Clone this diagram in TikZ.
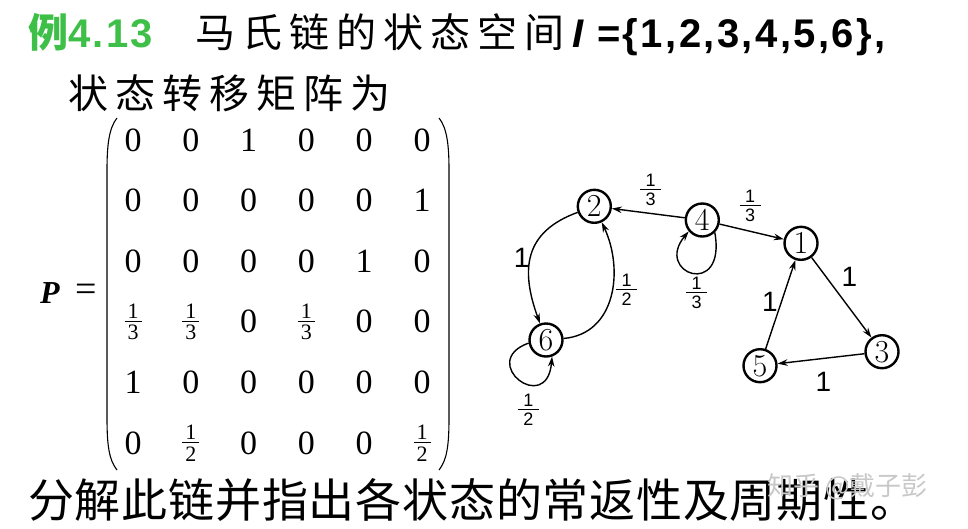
\documentclass[tikz,border=0pt]{standalone}
\usepackage{fontspec}
\usetikzlibrary{arrows.meta,matrix}
\newfontfamily\cjk[LetterSpace=17.5]{Noto Sans CJK SC}
\newfontfamily\cjkbot[LetterSpace=1.7]{Noto Sans CJK SC}
\newfontfamily\cjkplain{Noto Sans CJK SC}
\newfontfamily\timesfont{Liberation Serif}
\newfontfamily\arialfont{Liberation Sans}
\newfontfamily\arialsp[LetterSpace=6]{Liberation Sans}
\definecolor{tgreen}{RGB}{62,192,72}
\definecolor{wmark}{RGB}{200,200,200}
% #1 size, #2 side kern, #3 gap, #4 numerator, #5 denominator
\newcommand\fracstack[5]{{\fontsize{#1}{#1}\selectfont\vbox{\offinterlineskip\halign{\hfil\kern#2##\kern#2\hfil\cr #4\cr\noalign{\kern#3\hrule height 1pt\kern#3}#5\cr}}}}
\newcommand\mfrac[2]{{\timesfont\fracstack{22}{3pt}{3pt}{#1}{#2}}}
\newcommand\gfrac[2]{{\arialfont\fracstack{18}{5.5pt}{3pt}{#1}{#2}}}
\tikzset{
  txt/.style={anchor=base west,inner sep=0pt},
  state/.style={circle,draw,line width=2.4pt,minimum size=33pt,inner sep=0pt,font=\fontsize{32}{32}\selectfont},
  edge/.style={line width=1.4pt,-{Stealth[length=10pt,width=6.5pt]}},
  lab/.style={inner sep=0pt,font=\arialfont\fontsize{28}{28}\selectfont},
  flab/.style={inner sep=0pt},
}
\begin{document}
\begin{tikzpicture}[x=1pt,y=1pt]
\useasboundingbox (0,0) rectangle (968,-528);
\fill[white] (0,0) rectangle (968,-528);

% title
\node[txt,text=tgreen] (ex) at (28,-47) {\cjkplain\bfseries\fontsize{40}{40}\selectfont 例\arialsp\bfseries 4.13};
\node[txt] (t1) at (195,-47) {\cjk\fontsize{40}{40}\selectfont 马氏链的状态空间};
\node[txt] (tI) at (572,-47) {\arialsp\bfseries\itshape\fontsize{40}{40}\selectfont I};
\node[txt] (tset) at (597,-47) {\arialsp\bfseries\fontsize{40}{40}\selectfont =\{1,2,3,4,5,6\},};
\node[txt] (t2) at (68,-108) {\cjk\fontsize{40}{40}\selectfont 状态转移矩阵为};

% matrix
\node (P) at (50,-293) {\timesfont\bfseries\itshape\fontsize{32}{32}\selectfont P};
\node (eq) at (86,-293) {\timesfont\fontsize{38}{38}\selectfont =};
\matrix (M) [matrix of nodes, column sep=0pt, row sep=0pt,
  nodes={inner sep=0pt, minimum width=57.8pt, minimum height=60.6pt, anchor=center,
         font=\timesfont\fontsize{34}{34}\selectfont}] at (277.5,-291.5) {
0 & 0 & 1 & 0 & 0 & 0 \\
0 & 0 & 0 & 0 & 0 & 1 \\
0 & 0 & 0 & 0 & 1 & 0 \\
\mfrac13 & \mfrac13 & 0 & \mfrac13 & 0 & 0 \\
1 & 0 & 0 & 0 & 0 & 0 \\
0 & \mfrac12 & 0 & 0 & 0 & \mfrac12 \\
};
\draw[line width=1.1pt] (117,-118) .. controls (109,-128) and (107,-145) .. (107,-170) -- (107,-418) .. controls (107,-445) and (109,-460) .. (117,-470);
\draw[line width=1.1pt] (439,-118) .. controls (447,-128) and (449,-145) .. (449,-170) -- (449,-418) .. controls (449,-445) and (447,-460) .. (439,-470);

% graph
\node[state] (n2) at (594.3,-206.3) {2};
\node[state] (n4) at (702.3,-220) {4};
\node[state] (n1) at (801,-243.3) {1};
\node[state] (n6) at (546,-340) {6};
\node[state] (n5) at (760,-365.7) {5};
\node[state] (n3) at (882,-351.7) {3};

\draw[edge] (n4) -- (n2);
\draw[edge] (n4) -- (n1);
\draw[edge] (n1) -- (n3);
\draw[edge] (n3) -- (n5);
\draw[edge] (n5) -- (n1);
\draw[edge] (n2) to[out=200,in=110,looseness=1.25] (n6);
\draw[edge] (n6) to[out=5,in=-65,looseness=1.1] (n2);
\draw[edge] (n4.-45) .. controls +(-80:68) and +(-130:55) .. (n4.-140);
\draw[edge] (n6.-170) .. controls +(-160:55) and +(-95:60) .. (n6.-70);

\node[flab] (l42) at (650.7,-190) {\gfrac13};
\node[flab] (l41) at (750,-206) {\gfrac13};
\node[flab] (l44) at (696.7,-293) {\gfrac13};
\node[flab] (l62) at (626.7,-290) {\gfrac12};
\node[flab] (l66) at (528.3,-410) {\gfrac12};
\node[lab] (l26) at (521.7,-258.3) {1};
\node[lab] (l13) at (849.3,-276.7) {1};
\node[lab] (l51) at (770,-301.7) {1};
\node[lab] (l35) at (823.3,-381.7) {1};

% bottom line
\node[txt] (t3) at (28,-517) {\cjkbot\fontsize{46}{46}\selectfont 分解此链并指出各状态的常返性及周期性。};
\node[txt,text=wmark] (wm) at (767,-495) {\cjkplain\fontsize{26}{26}\selectfont 知乎 @戴子彭};
\end{tikzpicture}
\end{document}
